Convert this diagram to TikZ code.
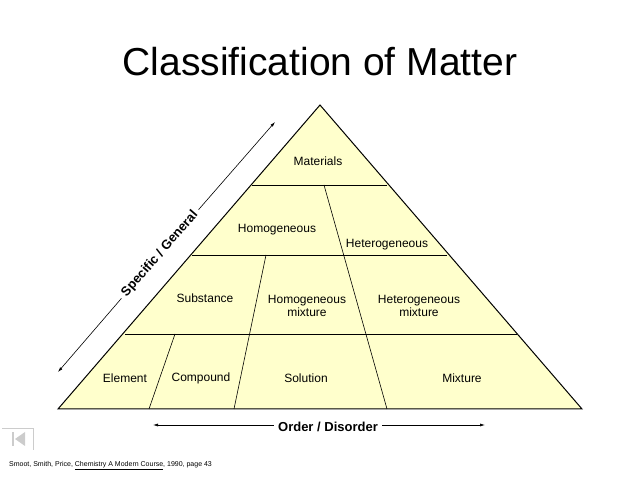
\documentclass[tikz,border=0pt]{standalone}
\usepackage{fontspec}
\setmainfont{Liberation Sans}
\usetikzlibrary{arrows.meta}
\begin{document}
\begin{tikzpicture}[x=1pt,y=-1pt,
 lbl/.style={font=\fontsize{12}{13}\selectfont,align=center,inner sep=1pt},
 sep/.style={line width=0.6pt},
 axis/.style={line width=0.6pt,-{Latex[length=5pt,width=3pt]}}]
\useasboundingbox (0,0) rectangle (638,478);
\node (title) at (320,62) {\fontsize{39}{42}\selectfont Classification of Matter};
\coordinate (A) at (320,105);
\coordinate (L) at (58,409);
\coordinate (R) at (582,409);
\fill[fill={rgb,255:red,255;green,255;blue,204}] (A)--(L)--(R)--cycle;
\draw[sep] (252,185)--(387,185);
\draw[sep] (192,255)--(447,255);
\draw[sep] (125,334)--(517,334);
\draw[sep] (324,185)--(387,409);
\draw[sep] (266,255)--(234,409);
\draw[sep] (175,334)--(149,409);
\draw[line width=1pt] (A)--(L)--(R)--cycle;
\node[lbl] (mat) at (318,161) {Materials};
\node[lbl] (hom) at (277,230) {Homogeneous};
\node[lbl] (het) at (387,245) {Heterogeneous};
\node[lbl] (sub) at (205,298) {Substance};
\node[lbl] (hmx) at (307,306) {Homogeneous\\mixture};
\node[lbl] (htx) at (419,306) {Heterogeneous\\mixture};
\node[lbl] (el) at (125,378) {Element};
\node[lbl] (co) at (201,378) {Compound};
\node[lbl] (so) at (306,378) {Solution};
\node[lbl] (mi) at (462,378) {Mixture};
% Specific / General
\coordinate (sg1) at (58,372);
\coordinate (sg2) at (275,122);
\node[font=\bfseries\fontsize{13}{14}\selectfont,rotate=49,inner sep=4pt] (sg) at (160,254) {Specific / General};
\draw[axis] (sg.west) -- (sg1);
\draw[axis] (sg.east) -- (sg2);
% Order / Disorder
\node[font=\bfseries\fontsize{13}{14}\selectfont,inner sep=4pt] (od) at (328,427) {Order / Disorder};
\coordinate (od1) at (153,425);
\coordinate (od2) at (485,425);
\draw[axis] (od.west|-od1) -- (od1);
\draw[axis] (od.east|-od2) -- (od2);
% nav icon
\draw[gray!40] (2,428) -- (33,428) -- (33,450);
\fill[gray!40] (15,439) -- (25,432) -- (25,446) -- cycle;
\fill[gray!40] (12,432) rectangle (13.5,446);
\node[anchor=west,font=\fontsize{7}{8}\selectfont,inner sep=0] (cite) at (9,466) {Smoot, Smith, Price, \underline{Chemistry A Modern Course}, 1990, page 43};
\end{tikzpicture}
\end{document}
